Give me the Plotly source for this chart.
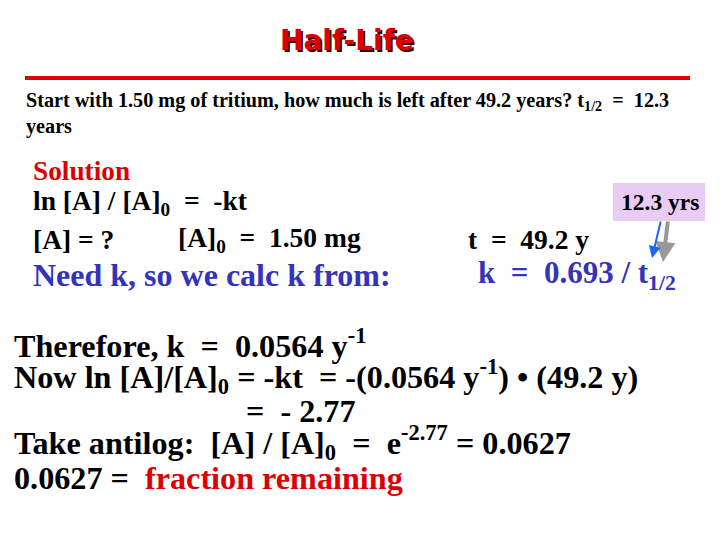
import plotly.graph_objects as go

W, H = 728, 546
PAD = 8  # page body margin of the browser
SERIF = "Liberation Serif"
BLACK = "#000000"
RED = "#DD0000"
BLUE = "#3333BB"
SP = "\u00a0"

title_text = "Half-Life"
problem_lines = [
    "Start with 1.50 mg of tritium, how much is left after 49.2 years? t<sub>1/2</sub>" + SP * 2 + "=" + SP * 2 + "12.3",
    "years",
]
solution_label = "Solution"
rate_law = "ln [A] / [A]<sub>0</sub>" + SP * 2 + "=" + SP * 2 + "-kt"
given_parts = ["[A] = ?", "[A]<sub>0</sub>" + SP * 2 + "=" + SP * 2 + "1.50 mg", "t" + SP * 2 + "=" + SP * 2 + "49.2 y"]
need_parts = ["Need k, so we calc k from:", "k" + SP * 2 + "=" + SP * 2 + "0.693 / t<sub>1/2</sub>"]
box_label = "12.3 yrs"
result_lines = [
    "Therefore, k" + SP * 2 + "=" + SP * 2 + "0.0564 y<sup>-1</sup>",
    "Now ln [A]/[A]<sub>0</sub> = -kt" + SP * 2 + "= -(0.0564 y<sup>-1</sup>) • (49.2 y)",
    "=" + SP * 2 + "- 2.77",
    "Take antilog:" + SP * 2 + "[A] / [A]<sub>0</sub>" + SP * 2 + "=" + SP * 2 + "e<sup>-2.77</sup> = 0.0627",
]
final_prefix = "0.0627 =" + SP * 2
final_highlight = "fraction remaining"

fig = go.Figure()
ann = []

def txt(x, y, s, size, color=BLACK, family=SERIF, anchor="left", shadow=None):
    f = dict(family=family, size=size, color=color)
    if shadow:
        f["shadow"] = shadow
    ann.append(dict(x=x, y=y, xref="x", yref="y", text="<b>" + s + "</b>", showarrow=False,
                    xanchor=anchor, yanchor="middle", font=f))

# title with shadow
txt(347, 40, title_text, 28, RED, family="DejaVu Sans", anchor="center", shadow="2px 2px 0px #3a0000")

txt(24, 101, problem_lines[0], 20.2)
txt(24, 126, problem_lines[1], 20.2)

txt(31, 171, solution_label, 27.3, RED)
txt(31, 202, rate_law, 27.5)
txt(31, 239, given_parts[0], 27.5)
txt(176, 239, given_parts[1], 27.5)
txt(466, 239, given_parts[2], 27.5)
txt(31, 275, need_parts[0], 32, BLUE)
txt(476, 275, need_parts[1], 31, BLUE)

txt(12, 343, result_lines[0], 32.2)
txt(12, 376, result_lines[1], 32.2)
txt(244, 411, result_lines[2], 32.2)
txt(12, 442, result_lines[3], 32.2)
txt(12, 478, final_prefix + "<span style='color:%s'>%s</span>" % (RED, final_highlight), 32.2)

# box label
txt(660, 202, box_label, 23.5, anchor="center")

# arrows
ann.append(dict(x=663, y=262, ax=668, ay=220, xref="x", yref="y", axref="x", ayref="y",
                text="", showarrow=True, arrowhead=2, arrowsize=1, arrowwidth=4, arrowcolor="#999999"))
ann.append(dict(x=652, y=258, ax=661, ay=220, xref="x", yref="y", axref="x", ayref="y",
                text="", showarrow=True, arrowhead=2, arrowsize=1.2, arrowwidth=2, arrowcolor="#2266EE"))

shapes = [
    dict(type="line", x0=25, x1=690, y0=78, y1=78, xref="x", yref="y",
         line=dict(color="#DD0000", width=4)),
    dict(type="rect", x0=613, x1=705, y0=183, y1=221, xref="x", yref="y",
         fillcolor="#E8CCF4", line=dict(width=0), layer="below"),
]

fig.update_layout(
    width=W - PAD, height=H - PAD, margin=dict(l=0, r=0, t=0, b=0),
    paper_bgcolor="white", plot_bgcolor="white",
    xaxis=dict(range=[PAD, W], visible=False, fixedrange=True),
    yaxis=dict(range=[H, PAD], visible=False, fixedrange=True),
    annotations=ann, shapes=shapes, showlegend=False,
)
fig.write_html("out.html")
